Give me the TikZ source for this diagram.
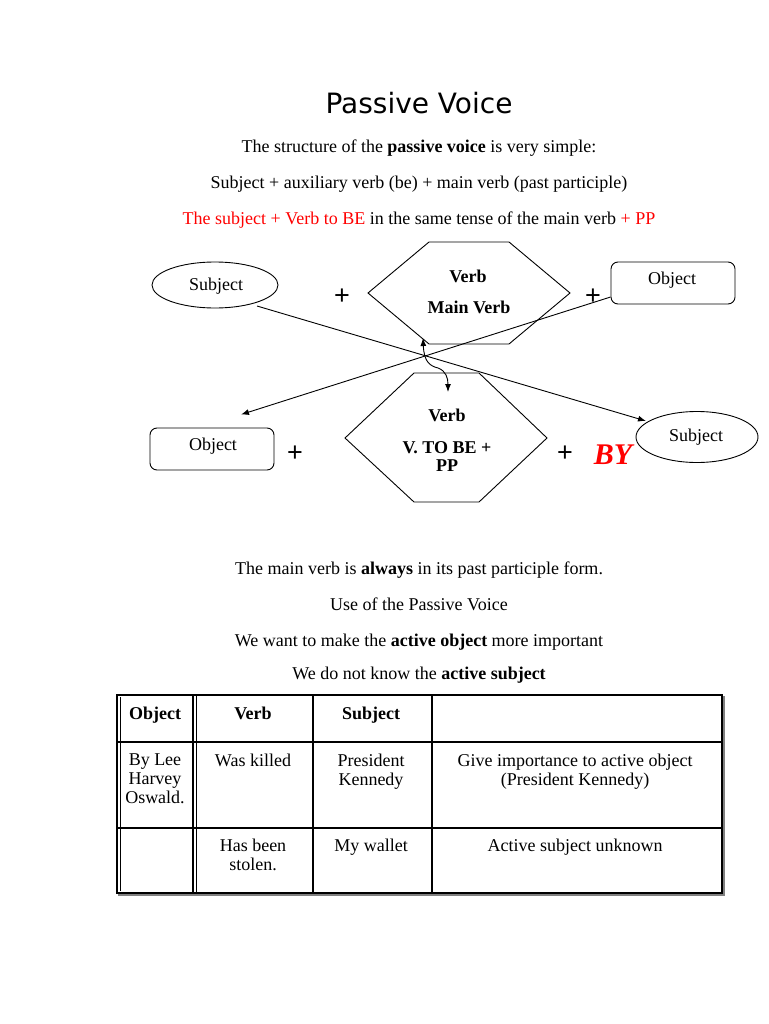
\documentclass[tikz,border=0pt]{standalone}
\usepackage{fontspec}
\setmainfont{Liberation Serif}
\newfontfamily\titlefont{DejaVu Sans}
\newfontfamily\plusfont{Liberation Sans}
\usetikzlibrary{shapes.geometric,arrows.meta}
\begin{document}
\begin{tikzpicture}[x=1pt,y=-1pt,
  txt/.style={font=\fontsize{18}{19}\selectfont, inner sep=0pt, align=center},
  one/.style={txt, text height=12.5pt, text depth=4pt, yshift=-2pt},
  bt/.style={inner sep=0pt, align=center, text height=12.5pt, text depth=4pt, yshift=-2pt, font=\fontsize{18}{19}\selectfont\bfseries},
  plus/.style={inner sep=0pt, font=\plusfont\fontsize{27}{27}\selectfont},
  oval/.style={ellipse, draw, line width=0.9pt, inner sep=0pt},
  rbox/.style={draw, rounded corners=7pt, line width=0.9pt, inner sep=0pt},
  hexa/.style={draw, line width=0.9pt},
  conn/.style={line width=0.9pt, -{Latex[length=8pt,width=6pt]}},
  dconn/.style={line width=0.9pt, {Latex[length=8pt,width=6pt]}-{Latex[length=8pt,width=6pt]}},
  grid/.style={line width=1.6pt}]
\useasboundingbox (0,0) rectangle (768,1024);

% heading texts
\node[inner sep=0pt, font=\titlefont\fontsize{28}{32}\selectfont] (title) at (419,103) {Passive Voice};
\node[one] (l1) at (419,146) {The structure of the \textbf{passive voice} is very simple:};
\node[one] (l2) at (419,182) {Subject + auxiliary verb (be) + main verb (past participle)};
\node[one] (l3) at (419,218) {\textcolor{red}{The subject + Verb to BE} in the same tense of the main verb \textcolor{red}{+ PP}};

% top row
\node[oval, minimum width=126pt, minimum height=46pt] (subjA) at (215,285) {};
\node[one] (subjAt) at (216,284) {Subject};
\node[plus] (p1) at (342,297) {+};
\draw[hexa] (368,293) -- (429,242) -- (509,242) -- (570,293) -- (509,344) -- (429,344) -- cycle;
\node[bt] (hAt1) at (468,276) {Verb};
\node[bt] (hAt2) at (469,307) {Main Verb};
\node[plus] (p2) at (593,297) {+};
\node[rbox, minimum width=124pt, minimum height=42pt] (objA) at (673,283) {};
\node[one] (objAt) at (672,278) {Object};

% bottom row
\node[rbox, minimum width=124pt, minimum height=42pt] (objB) at (212,449) {};
\node[one] (objBt) at (213,444) {Object};
\node[plus] (p3) at (295,454) {+};
\draw[hexa] (345,438) -- (414,373) -- (479,373) -- (547,438) -- (479,502) -- (414,502) -- cycle;
\node[bt] (hBt1) at (447,415) {Verb};
\node[bt] (hBt2) at (447,447) {V. TO BE +};
\node[bt] (hBt3) at (447,465) {PP};
\node[plus] (p4) at (565,454) {+};
\node[inner sep=0pt, text=red, font=\fontsize{30}{30}\selectfont\bfseries\itshape] (by) at (613,455) {BY};
\node[oval, minimum width=122pt, minimum height=51pt] (subjB) at (697,437) {};
\node[one] (subjBt) at (696,435) {Subject};

% connectors
\coordinate (hAbot) at (423,338);
\coordinate (hBtop) at (448,392);
\draw[conn] ([xshift=42pt,yshift=-21pt]subjA.center) -- ([xshift=-51pt,yshift=16pt]subjB.center);
\draw[conn] ([yshift=-14pt]objA.west) -- ([xshift=29pt,yshift=13pt]objB.north);
\draw[dconn] (hAbot) .. controls (424,362) and (430,366) .. (438,368) .. controls (446,371) and (448,378) .. (hBtop);

% lower texts
\node[one] (l4) at (419,568) {The main verb is \textbf{always} in its past participle form.};
\node[one] (l5) at (419,604) {Use of the Passive Voice};
\node[one] (l6) at (419,640) {We want to make the \textbf{active object} more important};
\node[one] (l7) at (419,673) {We do not know the \textbf{active subject}};

% table
\draw[grid] (117,695) rectangle (722,893);
\draw[line width=2pt, gray] (723.5,696) -- (723.5,894.5) -- (118,894.5);
\draw[line width=0.8pt] (120.5,697) -- (120.5,891);
\draw[grid] (193,695) -- (193,893);
\draw[line width=0.8pt] (196.5,695) -- (196.5,893);
\draw[grid] (313,695) -- (313,893);
\draw[grid] (432,695) -- (432,893);
\draw[grid] (117,742) -- (722,742);
\draw[grid] (117,828) -- (722,828);

\node[bt] (c11) at (155,713) {Object};
\node[bt] (c12) at (253,713) {Verb};
\node[bt] (c13) at (371,713) {Subject};
\node[txt, anchor=north] (c21) at (155,754) {By Lee\\Harvey\\Oswald.};
\node[txt, anchor=north] (c22) at (253,754) {Was killed};
\node[txt, anchor=north] (c23) at (371,754) {President\\Kennedy};
\node[txt, anchor=north] (c24) at (575,754) {Give importance to active object\\(President Kennedy)};
\node[txt, anchor=north] (c32) at (253,839) {Has been\\stolen.};
\node[txt, anchor=north] (c33) at (371,839) {My wallet};
\node[txt, anchor=north] (c34) at (575,839) {Active subject unknown};
\end{tikzpicture}
\end{document}
